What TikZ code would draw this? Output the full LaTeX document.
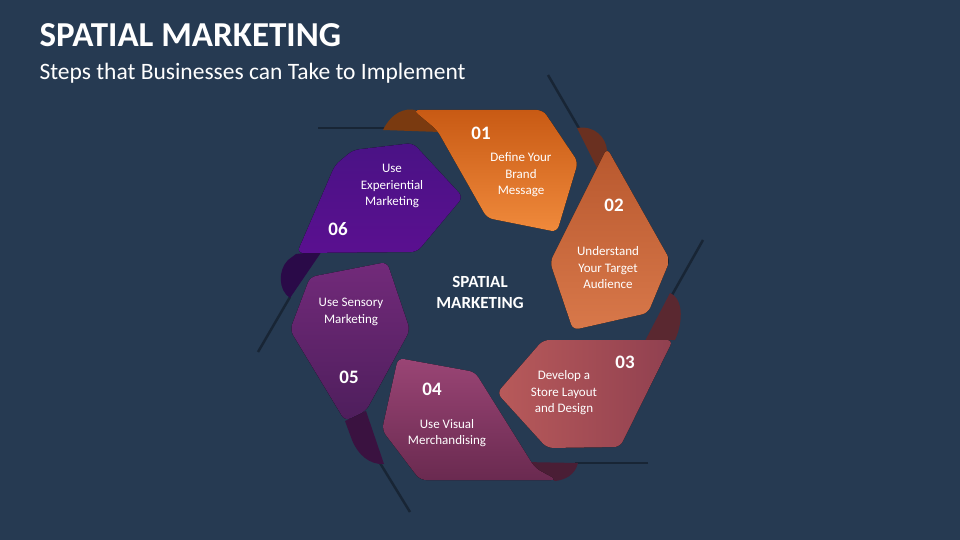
\documentclass[tikz,border=0pt]{standalone}
\usepackage{fontspec}
\setmainfont{Carlito}
\begin{document}
\begin{tikzpicture}[x=1pt,y=-1pt,
  lbl/.style={text=white,font=\fontsize{13}{16.5}\selectfont,align=center},
  num/.style={text=white,font=\bfseries\fontsize{19}{20}\selectfont},
  shad/.style={draw=black,opacity=0.35,line width=2.5pt},
  seg/.style={rounded corners=6pt}]
\definecolor{bg}{HTML}{263A52}
\definecolor{a1}{HTML}{C85A14}\definecolor{b1}{HTML}{F08A3C}\definecolor{f1}{HTML}{7A3A10}
\definecolor{a2}{HTML}{B8582E}\definecolor{b2}{HTML}{D8784A}\definecolor{f2}{HTML}{6A3020}
\definecolor{a3}{HTML}{B85A5A}\definecolor{b3}{HTML}{904050}\definecolor{f3}{HTML}{5A2830}
\definecolor{a4}{HTML}{9A4575}\definecolor{b4}{HTML}{6A2A50}\definecolor{f4}{HTML}{4A1E35}
\definecolor{a5}{HTML}{722A7A}\definecolor{b5}{HTML}{4E1E5C}\definecolor{f5}{HTML}{3A1240}
\definecolor{a6}{HTML}{4A1285}\definecolor{b6}{HTML}{5A1090}\definecolor{f6}{HTML}{2A0A48}
\fill[bg] (0,0) rectangle (960,540);
\useasboundingbox (0,0) rectangle (960,540);
% shadow lines
\draw[shad] (318,128) -- (386,128);
\draw[shad] (548,75) -- (580,130);
\draw[shad] (703,240) -- (672,295);
\draw[shad] (648,463) -- (575,463);
\draw[shad] (410,512) -- (380,463);
\draw[shad] (258,352) -- (290,297);
% folds
\fill[f1] (383,130) .. controls (392,112) and (405,108) .. (415,110) -- (440,132) -- cycle;
\fill[f2] (577,128) .. controls (595,125) and (606,138) .. (607,150) -- (597,168) -- cycle;
\fill[f3] (670,293) .. controls (685,300) and (682,325) .. (675,340) -- (645,341) -- cycle;
\fill[f4] (523,462) -- (578,463) .. controls (575,475) and (565,480) .. (555,481) -- cycle;
\fill[f5] (345,421) -- (366,411) -- (384,464) .. controls (370,465) and (358,455) .. (352,440) -- cycle;
\fill[f6] (296,254) -- (322,251) -- (290,298) .. controls (278,290) and (278,270) .. (288,260) -- cycle;
% segments
\fill[seg,top color=a1,bottom color=b1] (413,110) -- (543,110) -- (578,162) -- (557,232) -- (487,218) -- (437,130) -- cycle;
\fill[seg,top color=a2,bottom color=b2] (607,148) -- (670,260) -- (648,313) -- (573,330) -- (550,262) -- cycle;
\fill[seg,left color=a3,right color=b3] (543,340) -- (673,340) -- (620,447) -- (547,448) -- (497,393) -- cycle;
\fill[seg,top color=a4,bottom color=b4] (398,358) -- (475,372) -- (535,468) -- (557,480) -- (420,480) -- (382,430) -- cycle;
\fill[seg,top color=a5,bottom color=b5] (310,277) -- (387,262) -- (410,330) -- (366,411) -- (345,421) -- (290,330) -- cycle;
\fill[seg,top color=a6,bottom color=b6] (353,150) -- (413,143) -- (463,197) -- (417,252) -- (297,253) -- (335,165) -- cycle;
% texts
\node[num] (n1) at (481,133) {01};
\node[lbl] (t1) at (521,175) {Define Your\\Brand\\Message};
\node[num] (n2) at (614,205) {02};
\node[lbl] (t2) at (608,268) {Understand\\Your Target\\Audience};
\node[num] (n3) at (625,362) {03};
\node[lbl] (t3) at (564,393) {Develop a\\Store Layout\\and Design};
\node[num] (n4) at (432,389) {04};
\node[lbl] (t4) at (447,433) {Use Visual\\Merchandising};
\node[num] (n5) at (349,377) {05};
\node[lbl] (t5) at (351,312) {Use Sensory\\Marketing};
\node[num] (n6) at (338,229) {06};
\node[lbl] (t6) at (392,186) {Use\\Experiential\\Marketing};
\node[text=white,font=\bfseries\fontsize{17}{21}\selectfont,align=center] (c) at (480,292) {SPATIAL\\MARKETING};
\node[anchor=west,text=white,font=\bfseries\fontsize{35}{38}\selectfont] (title) at (36,35) {SPATIAL MARKETING};
\node[anchor=west,text=white,font=\fontsize{23.5}{26}\selectfont] (sub) at (36,73) {Steps that Businesses can Take to Implement};
\end{tikzpicture}
\end{document}
